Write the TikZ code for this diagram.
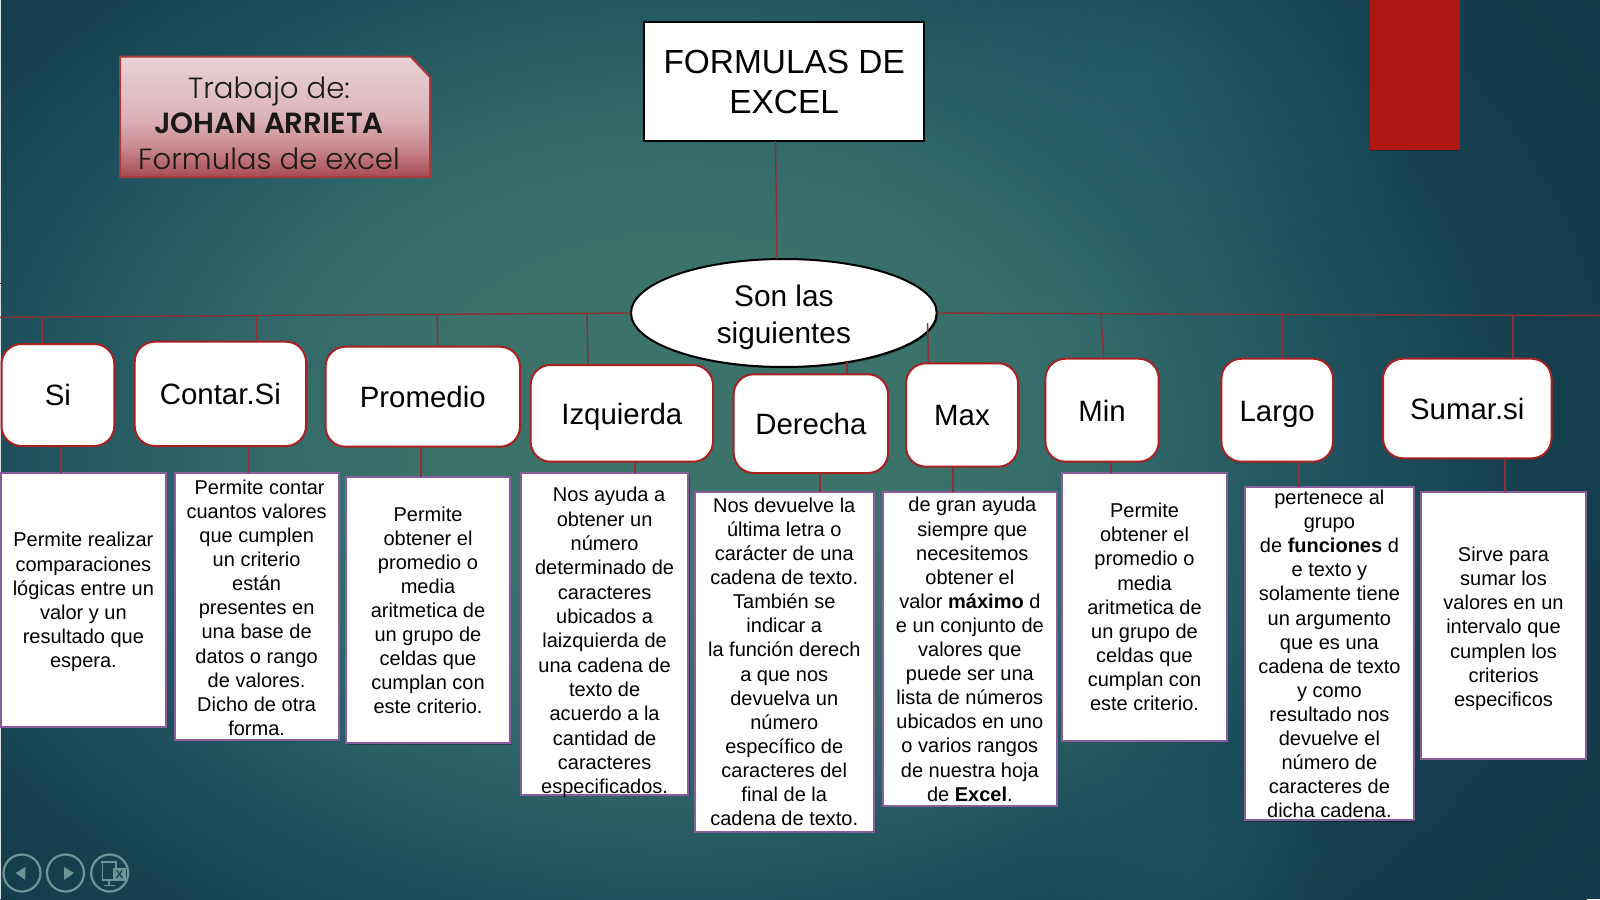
\documentclass[tikz,border=0pt]{standalone}
\usepackage{fontspec}
\setmainfont{Liberation Sans}
\newfontfamily\notefont[BoldFont=Poppins SemiBold]{Poppins Light}
\usetikzlibrary{shapes.geometric,shadows,fadings,calc}
\definecolor{linered}{HTML}{8E2F35}
\definecolor{boxred}{HTML}{A8201F}
\definecolor{descpurple}{HTML}{8A5E9C}
\definecolor{navgray}{HTML}{6F9498}
\definecolor{bgA}{HTML}{3B7269}
\definecolor{bgB}{HTML}{30686A}
\definecolor{bgC}{HTML}{1E505D}
\definecolor{bgD}{HTML}{143F4E}
\definecolor{bgE}{HTML}{123A4A}
\definecolor{spotA}{HTML}{286674}
\definecolor{spotB}{HTML}{26606C}
\definecolor{noteTop}{HTML}{E9D2D6}
\definecolor{noteUp}{HTML}{DCB4BA}
\definecolor{noteMid}{HTML}{C98A92}
\definecolor{noteBot}{HTML}{A84A52}
\definecolor{noteEdge}{HTML}{A83A3C}
\definecolor{redbar}{HTML}{AE1712}
\pgfdeclareradialshading{bgshade}{\pgfpoint{0bp}{0bp}}{%
 color(0bp)=(bgA); color(5.5bp)=(bgA); color(10bp)=(bgB); color(15bp)=(bgC); color(19bp)=(bgD); color(25bp)=(bgE); color(50bp)=(bgE)}
\pgfdeclareverticalshading{noteshade}{100bp}{%
 color(0bp)=(noteBot); color(25bp)=(noteBot); color(37.5bp)=(noteMid); color(50bp)=(noteUp); color(75bp)=(noteTop); color(100bp)=(noteTop)}
\tikzfading[name=spot, inner color=transparent!55, outer color=transparent!100]
\tikzset{
 x=0.5pt,y=-0.5pt,
 basebox/.style={inner sep=0pt,outer sep=0pt,align=center},
 titlebox/.style={basebox,draw=black,line width=1pt,fill=white,font=\fontsize{16.7}{19.7}\selectfont,
   drop shadow={shadow xshift=0.7pt,shadow yshift=-0.7pt,opacity=.35,fill=black}},
 ovalbox/.style={basebox,ellipse,draw=black,line width=1pt,fill=white,font=\fontsize{14.9}{18.4}\selectfont,
   drop shadow={shadow xshift=0.7pt,shadow yshift=-0.7pt,opacity=.35,fill=black}},
 labelbox/.style={basebox,rounded corners=10pt,draw=boxred,line width=1pt,fill=white,font=\fontsize{14.7}{18}\selectfont,text height=10.8pt,text depth=0pt},
 descbox/.style={basebox,draw=descpurple,line width=1pt,fill=white,font=\fontsize{10}{12.05}\selectfont,
   drop shadow={shadow xshift=0.6pt,shadow yshift=-0.6pt,opacity=.3,fill=black}},
 barbox/.style={basebox,fill=redbar,drop shadow={shadow xshift=0pt,shadow yshift=-0.7pt,opacity=.3,fill=black}},
 notetext/.style={basebox,font=\notefont\fontsize{14.6}{18}\selectfont,text=black!90},
 overtext/.style={basebox,font=\fontsize{10}{12.16}\selectfont},
 link/.style={draw=linered,line width=0.7pt},
 navring/.style={draw=navgray,line width=1.1pt},
 navfill/.style={fill=navgray},
}
\newcommand{\bx}[7]{\node[#1,minimum width={(#5-#3)*0.5pt},minimum height={(#6-#4)*0.5pt}] (#2) at ({(#3+#5)/2},{(#4+#6)/2}) {#7};}
\newcommand{\lift}[1]{\rule{0pt}{#1pt}}
\begin{document}
\begin{tikzpicture}
\useasboundingbox (0,0) rectangle (1600,899);
% background
\fill[bgE] (0,0) rectangle (1600,899);
\begin{scope}
\clip (0,0) rectangle (1600,899);
\shade[shading=bgshade] (680,430) ellipse [x radius=1120,y radius=800];
\fill[spotA,path fading=spot] (1150,70) ellipse [x radius=300,y radius=240];
\fill[spotB,path fading=spot] (1190,860) ellipse [x radius=170,y radius=130];
\fill[white!85!bgE] (0,0) rectangle (1.2,899);
\draw[black,line width=0.5pt] (0,283) -- (3,283);
\end{scope}
% note
\shade[shading=noteshade,draw=noteEdge,line width=1pt]
  (120,56.7) -- (410.7,56.7) -- (430,77) -- (430,177) -- (120,177) -- cycle;
\node[notetext] (note) at (269,123) {Trabajo de:\\[-0.3pt]{\bfseries JOHAN ARRIETA}\\Formulas de excel};
% red bar
\bx{barbox}{bar}{1370.4}{0}{1459.7}{150}{}
% main nodes
\bx{titlebox}{title}{644.4}{21.7}{924}{141}{\lift{12.5}FORMULAS DE\\EXCEL}
\bx{ovalbox}{oval}{631}{259}{936.7}{367}{\lift{15}Son las\\siguientes}
% label boxes
\bx{labelbox}{si}{1.5}{344}{114.3}{446}{Si}
\bx{labelbox}{contar}{134.7}{341.7}{306}{446}{Contar.Si}
\bx{labelbox}{promedio}{325.5}{346.7}{520}{446.7}{Promedio}
\bx{labelbox}{izquierda}{530.6}{365}{713}{461.7}{Izquierda}
\bx{labelbox}{derecha}{733.7}{374.3}{888}{473}{Derecha}
\bx{labelbox}{max}{906}{363.3}{1018}{466.7}{Max}
\bx{labelbox}{min}{1045.4}{358.7}{1158.7}{461.7}{Min}
\bx{labelbox}{largo}{1221.4}{358.7}{1333}{461.7}{Largo}
\bx{labelbox}{sumar}{1383}{358.7}{1551.5}{458.3}{Sumar.si}
% description boxes
\bx{descbox}{dsi}{1}{473.3}{165.8}{726.7}{\lift{9.3}Permite realizar\\comparaciones\\lógicas entre un\\valor y un\\resultado que\\espera.}
\bx{descbox}{dcontar}{174.5}{473.3}{338.8}{740}{\lift{8.3}\hspace*{3pt}Permite contar\\cuantos valores\\que cumplen\\un criterio\\están\\presentes en\\una base de\\datos o rango\\de valores.\\Dicho de otra\\forma.}
\bx{descbox}{dprom}{346}{477.3}{510}{743.3}{Permite\\obtener el\\promedio o\\media\\aritmetica de\\un grupo de\\celdas que\\cumplan con\\este criterio.}
\bx{descbox}{dizq}{521}{473.3}{688.3}{794.7}{}
\node[overtext] (dizqtext) at (604.6,642.7) {\hspace*{4.5pt}Nos ayuda a\\obtener un\\número\\determinado de\\caracteres\\ubicados a\\laizquierda de\\una cadena de\\texto de\\acuerdo a la\\cantidad de\\caracteres\\especificados.};
\bx{descbox}{dder}{695}{492}{873.5}{831.7}{Nos devuelve la\\última letra o\\carácter de una\\cadena de texto.\\También se\\indicar a\\la función derech\\a que nos\\devuelva un\\número\\específico de\\caracteres del\\final de la\\cadena de texto.}
\bx{descbox}{dmax}{882.7}{492}{1057}{805.7}{\lift{7.8}\hspace*{2.5pt}de gran ayuda\\\hspace*{2.5pt}siempre que\\\hspace*{2.5pt}necesitemos\\obtener el\\valor {\bfseries máximo} d\\e un conjunto de\\valores que\\puede ser una\\lista de números\\ubicados en uno\\o varios rangos\\de nuestra hoja\\de {\bfseries Excel}.}
\bx{descbox}{dmin}{1062}{473.3}{1227}{740.7}{Permite\\obtener el\\promedio o\\media\\aritmetica de\\un grupo de\\celdas que\\cumplan con\\este criterio.}
\bx{descbox}{dlargo}{1245}{486.7}{1413.8}{820.3}{\lift{7.8}pertenece al\\grupo\\de {\bfseries funciones} d\\e texto y\\solamente tiene\\un argumento\\que es una\\cadena de texto\\y como\\resultado nos\\devuelve el\\número de\\caracteres de\\dicha cadena.}
\bx{descbox}{dsumar}{1421}{491.7}{1586}{758.7}{\lift{10.8}Sirve para\\sumar los\\valores en un\\intervalo que\\cumplen los\\criterios\\especificos}
% connectors
\coordinate (hl) at (0,317.3);
\coordinate (hr) at (1600,315.7);
\draw[link] (title.south -| 775.5,0) -- (oval.north -| 777,0);
\draw[link] (hl) -- (oval.west);
\draw[link] (oval.east) -- (hr);
\coordinate (tsi) at (41.8,316.8);
\coordinate (tcontar) at (256.6,315.2);
\coordinate (tprom) at (437,314.2);
\coordinate (tizq) at (587,312.6);
\coordinate (tmax) at (927.5,323);
\coordinate (tmin) at (1101,314.5);
\coordinate (tlargo) at (1282,314.5);
\coordinate (tsumar) at (1512.8,315.4);
\draw[link] (tsi) -- (si.north -| tsi);
\draw[link] (tcontar) -- (contar.north -| tcontar);
\draw[link] (tprom) -- (promedio.north -| 438,0);
\draw[link] (tizq) -- (izquierda.north -| 588,0);
\draw[link] (oval.-38) -- (derecha.north -| oval.-38);
\draw[link] (tmax) -- (max.north -| 928.5,0);
\draw[link] (tmin) -- (min.north -| 1103.6,0);
\draw[link] (tlargo) -- (largo.north -| tlargo);
\draw[link] (tsumar) -- (sumar.north -| tsumar);
\draw[link] (si.south -| 61,0) -- (dsi.north -| 61,0);
\draw[link] (contar.south -| 248.5,0) -- (dcontar.north -| 248.5,0);
\draw[link] (promedio.south -| 421,0) -- (dprom.north -| 421,0);
\draw[link] (izquierda.south -| 635,0) -- (dizq.north -| 635,0);
\draw[link] (derecha.south -| 820,0) -- (dder.north -| 820,0);
\draw[link] (max.south -| 953,0) -- (dmax.north -| 953,0);
\draw[link] (min.south -| 1111,0) -- (dmin.north -| 1111,0);
\draw[link] (largo.south -| 1299,0) -- (dlargo.north -| 1299,0);
\draw[link] (sumar.south -| 1505,0) -- (dsumar.north -| 1505,0);
% navigation icons
\draw[navring] (22,873) circle [radius=18.5];
\fill[navfill] (15.7,873) -- (25.3,867) -- (25.3,880) -- cycle;
\draw[navring] (65.5,873) circle [radius=18.5];
\fill[navfill] (74,873) -- (64,867) -- (64,880) -- cycle;
\draw[navring] (109.7,873) circle [radius=18.5];
\draw[navgray,line width=0.9pt] (101,862) -- (117,862) (102.5,862) -- (102.5,880) -- (113,880) (116,862) -- (116,868) (109,880) -- (109,885) (104,885.5) -- (115,885.5);
\fill[navgray] (113,868) rectangle (126,881);
\node[font=\fontsize{5.5}{6}\bfseries\selectfont,text=bgD,inner sep=0pt] (navx) at (119.5,874.5) {X};
\end{tikzpicture}
\end{document}
